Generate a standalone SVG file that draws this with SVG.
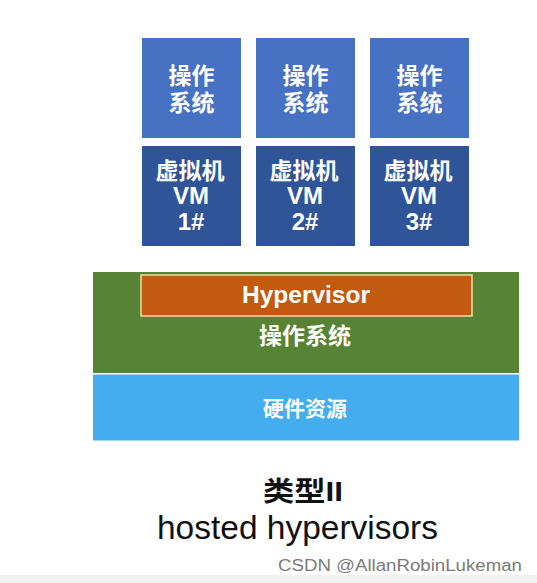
<svg xmlns="http://www.w3.org/2000/svg" width="537" height="583" viewBox="0 0 537 583">
<style>
.os{fill:#4771c2}
.vm{fill:#2f5497}
.t{font-family:"Liberation Sans","Noto Sans CJK SC",sans-serif;font-weight:bold;fill:#ffffff;text-anchor:middle}
.c{font-size:23px}
.e{font-size:24px}
</style>
<rect width="537" height="583" fill="#ffffff"/>
<rect x="0" y="575" width="537" height="8" fill="#f1f1f1"/>
<g id="os1"><rect class="os" x="142" y="38" width="99" height="100"/><text class="t c" x="191.5" y="84">操作</text><text class="t c" x="191.5" y="111">系统</text></g>
<g id="os2"><rect class="os" x="256" y="38" width="99" height="100"/><text class="t c" x="305.5" y="84">操作</text><text class="t c" x="305.5" y="111">系统</text></g>
<g id="os3"><rect class="os" x="370" y="38" width="99" height="100"/><text class="t c" x="419.5" y="84">操作</text><text class="t c" x="419.5" y="111">系统</text></g>
<g id="vm1"><rect class="vm" x="142" y="146" width="99" height="100"/><text class="t c" x="190" y="179">虚拟机</text><text class="t e" x="191" y="204">VM</text><text class="t e" x="191" y="230">1#</text></g>
<g id="vm2"><rect class="vm" x="256" y="146" width="99" height="100"/><text class="t c" x="304" y="179">虚拟机</text><text class="t e" x="305" y="204">VM</text><text class="t e" x="305" y="230">2#</text></g>
<g id="vm3"><rect class="vm" x="370" y="146" width="99" height="100"/><text class="t c" x="418" y="179">虚拟机</text><text class="t e" x="419" y="204">VM</text><text class="t e" x="419" y="230">3#</text></g>
<g id="hostos"><rect x="93" y="272" width="426" height="101" fill="#578334"/><text class="t" x="305" y="344" font-size="23" fill="#fffbea">操作系统</text></g>
<g id="hypervisor"><rect x="141" y="275" width="331" height="41" fill="#c25b0f" stroke="#ecdfa6" stroke-width="1.5"/><text class="t" x="306" y="302.5" font-size="23" textLength="128" lengthAdjust="spacingAndGlyphs" fill="#fffbea">Hypervisor</text></g>
<g id="hardware"><rect x="93" y="374.5" width="426" height="66" fill="#44adee"/><text class="t" x="305" y="416" font-size="21" fill="#fbfbf0">硬件资源</text></g>
<g id="connectors"></g>
<text x="263" y="501" font-family="'Liberation Sans','Noto Sans CJK SC',sans-serif" font-weight="bold" font-size="27" fill="#111" textLength="80" lengthAdjust="spacingAndGlyphs">类型II</text>
<text x="157" y="539" font-family="'Liberation Sans',sans-serif" font-size="34" fill="#111" textLength="281" lengthAdjust="spacingAndGlyphs">hosted hypervisors</text>
<text x="278" y="571" font-family="'Liberation Sans',sans-serif" font-size="16" fill="#7a7a7a" textLength="244" lengthAdjust="spacingAndGlyphs">CSDN @AllanRobinLukeman</text>
</svg>
